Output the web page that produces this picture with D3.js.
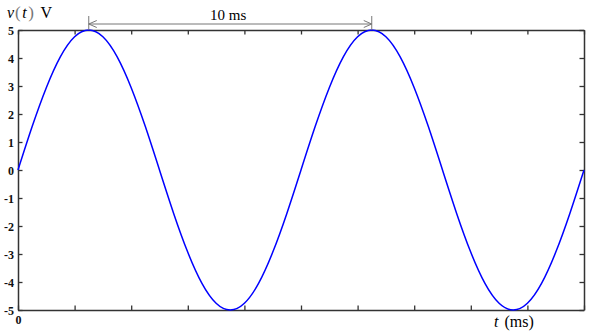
<!DOCTYPE html>
<html>
<head>
<meta charset="utf-8">
<script src="https://cdn.jsdelivr.net/npm/d3@7"></script>
<style>
  body { margin: 0; background: #fff; }
</style>
</head>
<body>
<div id="chart"></div>
<script>
// sampled readings, every 0.5 ms
const timeMs = d3.range(0, 20.01, 0.5);
const voltage = [
  0, 1.55, 2.94, 4.05, 4.76, 5, 4.76, 4.05, 2.94, 1.55,
  0, -1.55, -2.94, -4.05, -4.76, -5, -4.76, -4.05, -2.94, -1.55,
  0, 1.55, 2.94, 4.05, 4.76, 5, 4.76, 4.05, 2.94, 1.55,
  0, -1.55, -2.94, -4.05, -4.76, -5, -4.76, -4.05, -2.94, -1.55,
  0
];
const xTicks = [0, 2, 4, 6, 8, 10, 12, 14, 16, 18, 20];
const yTicks = [-5, -4, -3, -2, -1, 0, 1, 2, 3, 4, 5];
const periodMarks = [2.5, 12.5]; // two peaks, one period apart
const periodLabel = "10 ms";

const width = 590, height = 333;
const marginTop = 30, marginRight = 6, marginBottom = 23, marginLeft = 18;
const serif = "'Liberation Serif', 'Times New Roman', serif";

const x = d3.scaleLinear([0, 20], [marginLeft, width - marginRight]);
const y = d3.scaleLinear([-5, 5], [height - marginBottom, marginTop]);

const svg = d3.select("#chart").append("svg")
    .attr("width", width)
    .attr("height", height)
    .attr("viewBox", [0, 0, width, height])
    .attr("font-family", serif);

const tickLen = 4.5;
const axisColor = "#333";

// axes box with inward ticks on all four sides
const axBottom = svg.append("g")
    .attr("transform", `translate(0,${y(-5)})`)
    .call(d3.axisBottom(x).tickValues(xTicks).tickSizeInner(-tickLen).tickSizeOuter(0)
      .tickFormat(d => d === 0 ? "0" : ""));
const axTop = svg.append("g")
    .attr("transform", `translate(0,${y(5)})`)
    .call(d3.axisTop(x).tickValues(xTicks).tickSizeInner(-tickLen).tickSizeOuter(0).tickFormat(""));
const axLeft = svg.append("g")
    .attr("transform", `translate(${x(0)},0)`)
    .call(d3.axisLeft(y).tickValues(yTicks).tickSizeInner(-tickLen).tickSizeOuter(0).tickPadding(4)
      .tickFormat(d => String(d)));
const axRight = svg.append("g")
    .attr("transform", `translate(${x(20)},0)`)
    .call(d3.axisRight(y).tickValues(yTicks).tickSizeInner(-tickLen).tickSizeOuter(0).tickFormat(""));

[axBottom, axTop, axLeft, axRight].forEach(g => {
  g.select(".domain").attr("stroke", axisColor).attr("stroke-width", 1.5);
  g.selectAll(".tick line").attr("stroke", axisColor).attr("stroke-width", 1.3);
  g.selectAll(".tick text")
      .attr("font-family", serif)
      .attr("font-weight", "bold")
      .attr("font-size", 12)
      .attr("fill", "#111");
});
axBottom.selectAll(".tick text").attr("dy", "0.9em");
axLeft.selectAll(".tick text").attr("dy", "0.35em");

// curve
const line = d3.line()
    .curve(d3.curveNatural)
    .x((d, i) => x(timeMs[i]))
    .y(d => y(d));

svg.append("path")
    .datum(voltage)
    .attr("fill", "none")
    .attr("stroke", "#0000ff")
    .attr("stroke-width", 1.5)
    .attr("d", line);

// period dimension
const dimY = 24;
const dim = svg.append("g").attr("stroke", "#777").attr("fill", "none").attr("stroke-width", 1);
periodMarks.forEach(t => {
  dim.append("line")
      .attr("x1", x(t)).attr("x2", x(t))
      .attr("y1", 16).attr("y2", y(5));
});
dim.append("line")
    .attr("x1", x(periodMarks[0])).attr("x2", x(periodMarks[1]))
    .attr("y1", dimY).attr("y2", dimY);
dim.append("path")
    .attr("d", `M${x(periodMarks[0]) + 8},${dimY - 3.5}L${x(periodMarks[0])},${dimY}L${x(periodMarks[0]) + 8},${dimY + 3.5}`);
dim.append("path")
    .attr("d", `M${x(periodMarks[1]) - 8},${dimY - 3.5}L${x(periodMarks[1])},${dimY}L${x(periodMarks[1]) - 8},${dimY + 3.5}`);

svg.append("text")
    .attr("x", (x(periodMarks[0]) + x(periodMarks[1])) / 2 - 2)
    .attr("y", 20)
    .attr("text-anchor", "middle")
    .attr("font-size", 15)
    .attr("fill", "#000")
    .text(periodLabel);

// axis labels
const yLabel = svg.append("text")
    .attr("x", 7)
    .attr("y", 18)
    .attr("font-size", 16)
    .attr("fill", "#000");
yLabel.append("tspan").attr("font-style", "italic").text("v");
yLabel.append("tspan").attr("fill", "#777").attr("font-size", 17).attr("dx", 1).text("(");
yLabel.append("tspan").attr("font-style", "italic").attr("dx", 1.5).text("t");
yLabel.append("tspan").attr("fill", "#777").attr("font-size", 17).attr("dx", 1.5).text(")");
yLabel.append("tspan").attr("dx", 3).text(" V");

const xLabel = svg.append("text")
    .attr("x", 494)
    .attr("y", 327)
    .attr("font-size", 16)
    .attr("fill", "#000");
xLabel.append("tspan").attr("font-style", "italic").text("t");
xLabel.append("tspan").attr("dx", 2).text(" (ms)");
</script>
</body>
</html>
